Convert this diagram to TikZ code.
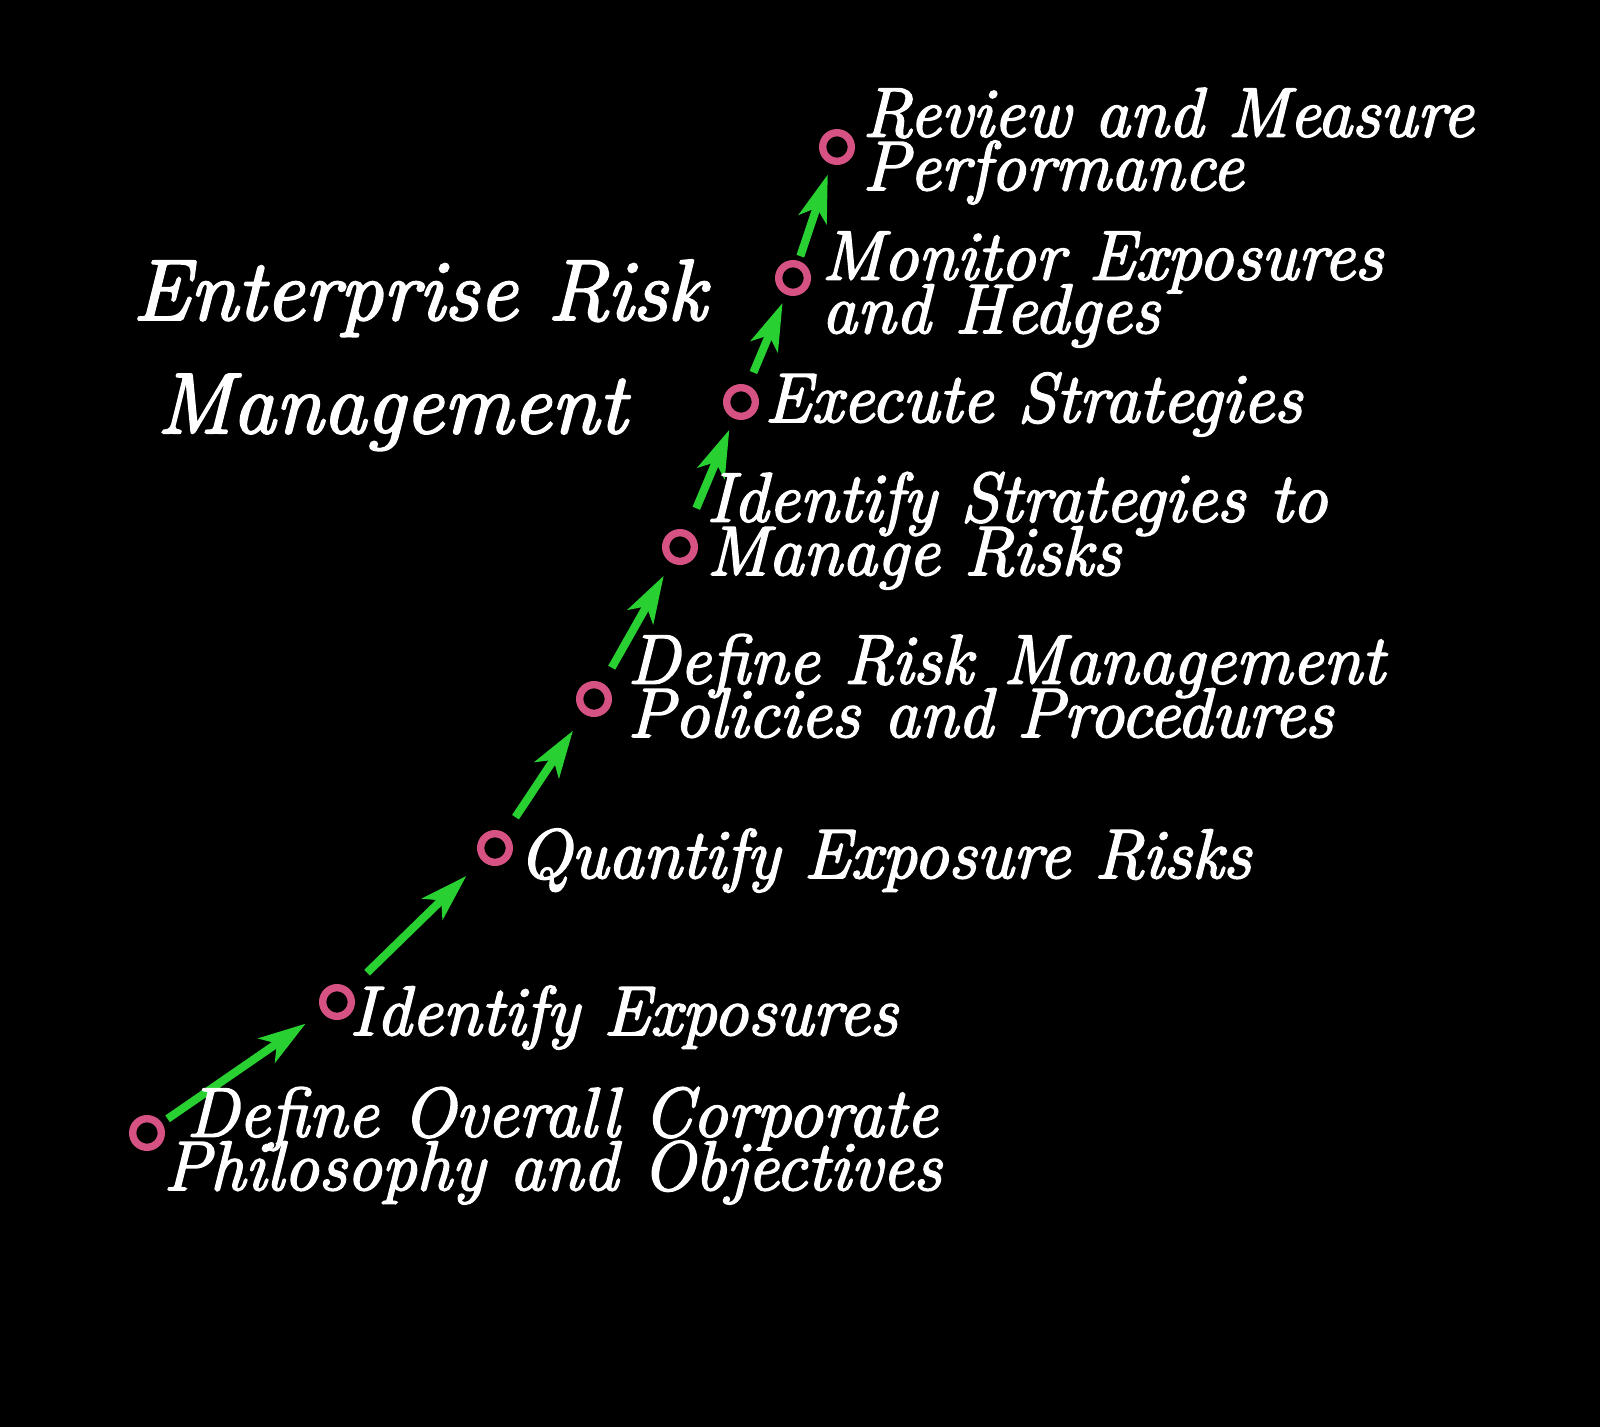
\documentclass[tikz,border=0pt]{standalone}
\usepackage{fontspec}
\newfontfamily\heavyserif[ItalicFeatures={FakeBold=2.6}]{Latin Modern Roman}
\usetikzlibrary{arrows.meta}
\definecolor{ringpink}{RGB}{214,82,130}
\definecolor{arrowgreen}{RGB}{40,208,50}
\lineskiplimit=-100pt
\begin{document}
\begin{tikzpicture}[x=0.01cm,y=-0.01cm,
  ring/.style={circle,draw=ringpink,line width=2.1pt,minimum size=0.286cm,inner sep=0pt},
  flow/.style={draw=arrowgreen,line width=2.3pt,-{Stealth[length=0.47cm,width=0.29cm,inset=0.12cm]}},
  lbl/.style={text=white,font=\heavyserif\fontsize{19.9}{15.2}\selectfont\itshape,anchor=base west,inner sep=0pt,align=left},
  ttl/.style={text=white,font=\heavyserif\fontsize{24.5}{32.2}\selectfont\itshape,anchor=base west,inner sep=0pt,align=left}]
\fill[black] (0,0) rectangle (1600,1427);
\useasboundingbox (0,0) rectangle (1600,1427);

% title (anchor is the baseline of the last line)
\node[ttl] (title) at (132,433) {Enterprise Risk\\\hspace*{0.24cm}Management};

% rings
\node[ring] (c1) at (147,1133) {};
\node[ring] (c2) at (337,1002) {};
\node[ring] (c3) at (495,848) {};
\node[ring] (c4) at (594,699) {};
\node[ring] (c5) at (680,547) {};
\node[ring] (c6) at (741,402) {};
\node[ring] (c7) at (793,278) {};
\node[ring] (c8) at (837,147) {};

% arrows
\draw[flow,shorten <=0.07cm,shorten >=0.20cm] (c1) -- (c2);
\draw[flow,shorten <=0.24cm,shorten >=0.22cm] (c2) -- (c3);
\draw[flow,shorten <=0.19cm,shorten >=0.20cm] (c3) -- (c4);
\draw[flow,shorten <=0.18cm,shorten >=0.15cm] (c4) -- (c5);
\draw[flow,shorten <=0.24cm,shorten >=0.12cm] (c5) -- (c6);
\draw[flow,shorten <=0.14cm,shorten >=0.09cm] (c6) -- (c7);
\draw[flow,shorten <=0.05cm,shorten >=0.11cm] (c7) -- (c8);

% labels (anchor is the baseline of the last line)
\node[lbl] (t1) at (163,1190) {\hspace*{0.23cm}Define Overall Corporate\\Philosophy and Objectives};
\node[lbl] (t2) at (349,1035) {Identify Exposures};
\node[lbl] (t3) at (518,878) {Quantify Exposure Risks};
\node[lbl] (t4) at (627,737) {Define Risk\hspace{0.06cm} Management\\Policies and Procedures};
\node[lbl] (t5) at (706,575) {Identify Strategies to\\Manage Risks};
\node[lbl] (t6) at (764,422) {Execute Strategies};
\node[lbl] (t7) at (821,333) {Monitor Exposures\\and Hedges};
\node[lbl] (t8) at (862,190) {Review and Measure\\Performance};
\end{tikzpicture}
\end{document}
